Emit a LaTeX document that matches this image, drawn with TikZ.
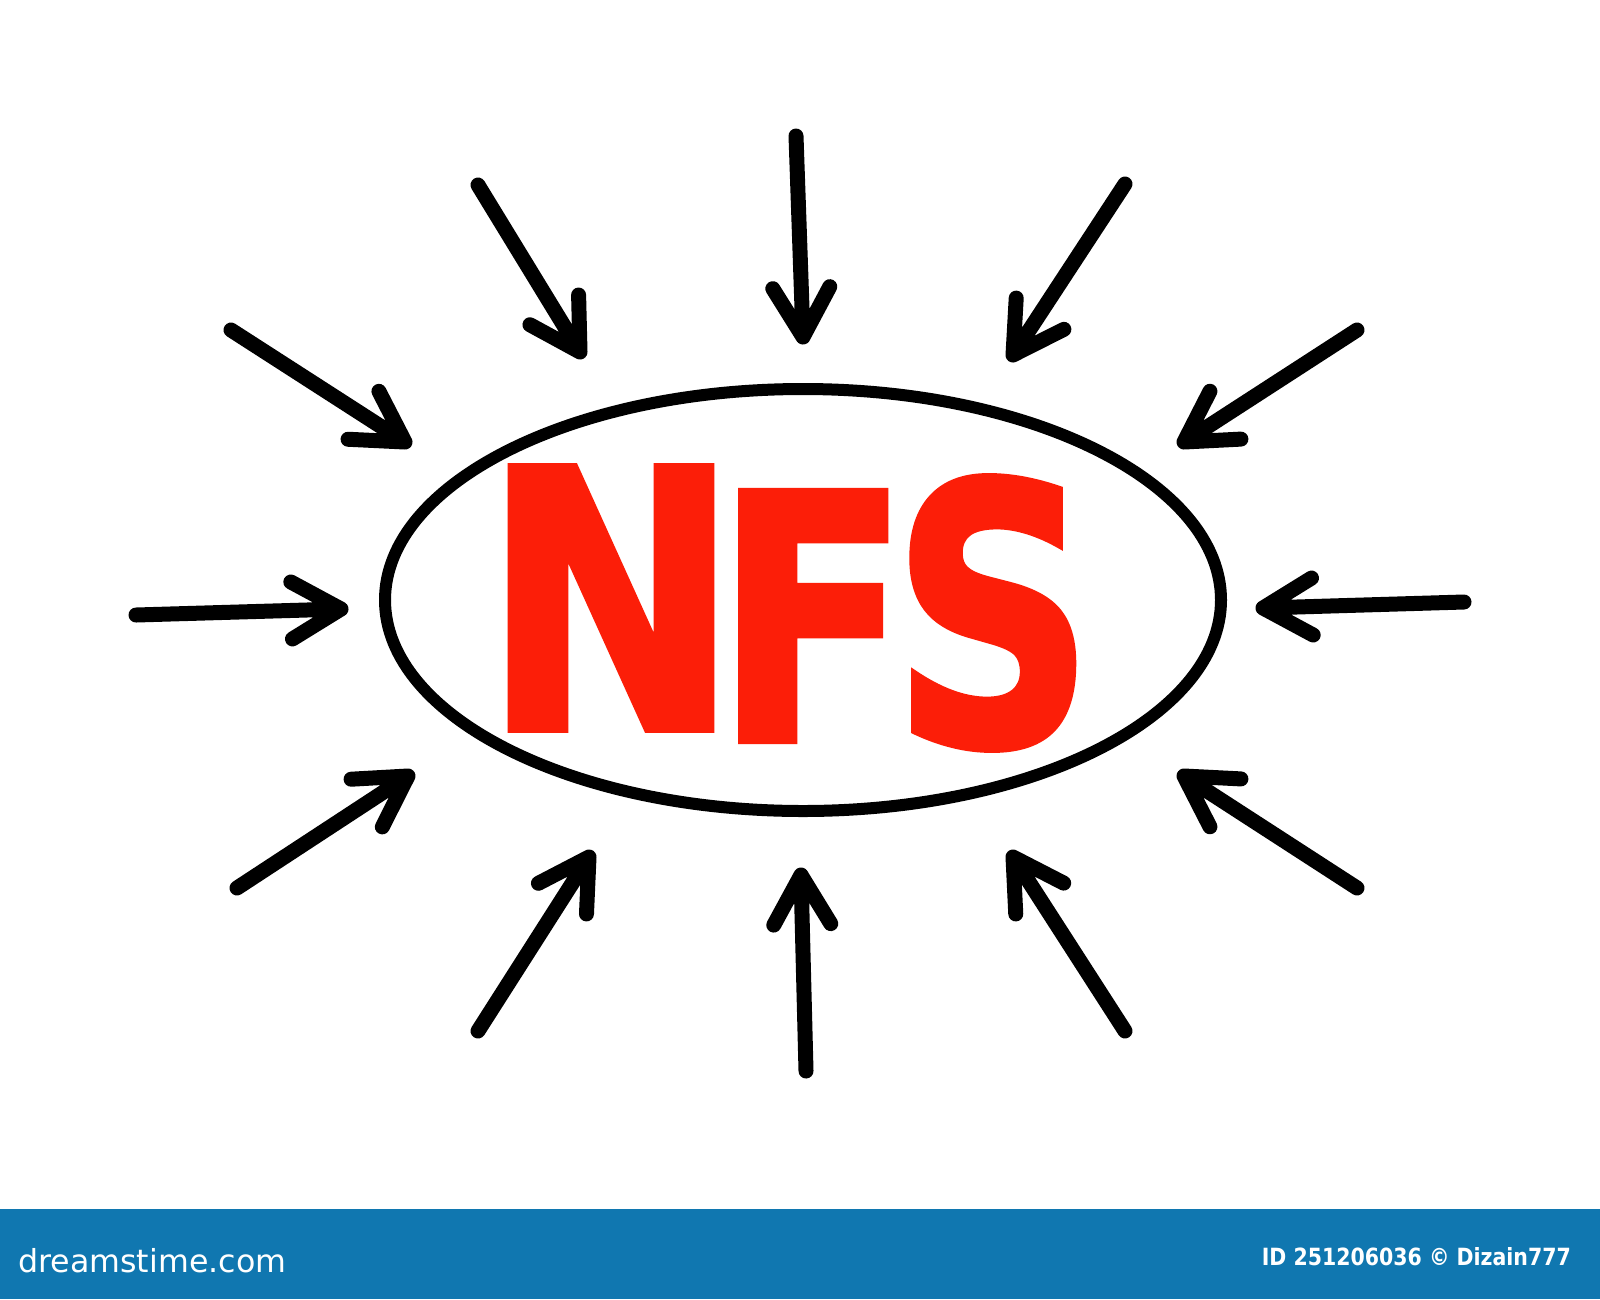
\documentclass[tikz,border=0pt]{standalone}
\usepackage{fontspec}
\setmainfont{DejaVu Sans}
\newfontfamily\heavy{DejaVu Sans}[BoldFeatures={FakeBold=2}]
\usetikzlibrary{calc,shapes.geometric}
\definecolor{nfsred}{RGB}{252,30,8}
\definecolor{barblue}{RGB}{16,119,176}
\begin{document}
\begin{tikzpicture}[x=1pt,y=-1pt,
  inarrow/.style={line width=15pt,line cap=round,line join=round,draw=black},
  ringstyle/.style={ellipse,draw=black,line width=12pt,minimum width=836pt,minimum height=422pt,inner sep=0pt},
  bigtext/.style={text=nfsred,inner sep=0pt},
  bartext/.style={text=white,inner sep=0pt}]
\useasboundingbox (0,0) rectangle (1600,1299);
\fill[white] (0,0) rectangle (1600,1299);
\node[ringstyle] (ring) at (803,600) {};
\node[bigtext] (nN) at (611,598) {\resizebox{206pt}{262pt}{\heavy\bfseries\hspace{-0.083em}N\hspace{-0.083em}}};
\node[bigtext] (nF) at (816,616) {\resizebox{151pt}{249pt}{\heavy\bfseries\hspace{-0.09em}F\hspace{-0.063em}}};
\node[bigtext] (nS) at (993,613) {\resizebox{167pt}{267pt}{\heavy\bfseries\hspace{-0.062em}S\hspace{-0.062em}}};
\foreach \i/\ax/\ay/\bx/\by in {
  1/796/136/803/337,
  2/478/185/580/352,
  3/1125/184/1013/355,
  4/231/330/405/442,
  5/1357/330/1184/442,
  6/136/615/341/609,
  7/1464/602/1263/608,
  8/237/888/408/776,
  9/1357/888/1184/776,
  10/478/1031/589/857,
  11/806/1071/801/875,
  12/1125/1031/1013/857}{
  \coordinate (t\i) at (\ax,\ay);
  \coordinate (h\i) at (\bx,\by);
  \draw[inarrow] (t\i) -- (h\i) -- ($(h\i)!57pt!30:(t\i)$) (h\i) -- ($(h\i)!57pt!-30:(t\i)$);
}
\fill[barblue] (0,1209) rectangle (1600,1299);
\node[bartext,anchor=base west] (brand) at (18,1272) {\resizebox{268pt}{!}{dreamstime.com}};
\node[bartext,anchor=base east] (credit) at (1571,1265) {\resizebox{309pt}{18pt}{\bfseries ID 251206036 © Dizain777}};
\end{tikzpicture}
\end{document}
